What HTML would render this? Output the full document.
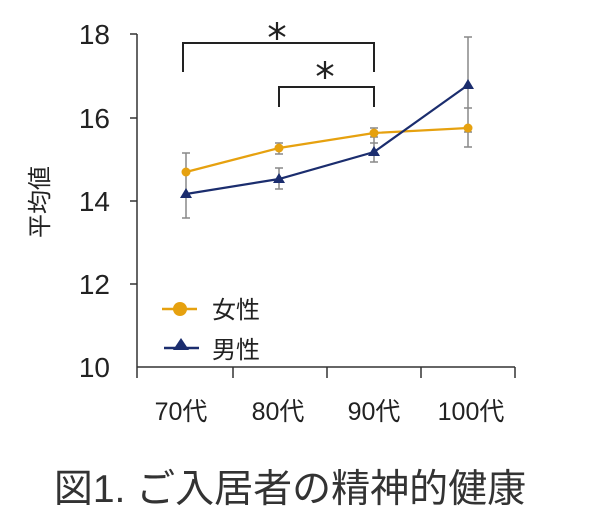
<!DOCTYPE html>
<html><head><meta charset="utf-8"><style>
body{margin:0;background:#fff}
svg{display:block;font-family:"Liberation Sans","Noto Sans CJK JP",sans-serif}
</style></head><body>
<svg width="600" height="519" viewBox="0 0 600 519">
<g stroke="#333" stroke-width="1.5" fill="none">
<line x1="137" y1="34" x2="137" y2="378"/>
<line x1="137" y1="367" x2="515" y2="367"/>
<line x1="130" y1="34" x2="137" y2="34"/>
<line x1="130" y1="118" x2="137" y2="118"/>
<line x1="130" y1="201" x2="137" y2="201"/>
<line x1="130" y1="284" x2="137" y2="284"/>
<line x1="233" y1="367" x2="233" y2="378"/>
<line x1="327" y1="367" x2="327" y2="378"/>
<line x1="421" y1="367" x2="421" y2="378"/>
<line x1="515" y1="367" x2="515" y2="378"/>
</g>
<g font-size="28" fill="#222" text-anchor="end">
<text x="110" y="44">18</text><text x="110" y="128">16</text><text x="110" y="211">14</text><text x="110" y="294">12</text><text x="110" y="377">10</text>
</g>
<text transform="translate(48,202) rotate(-90)" font-size="24" text-anchor="middle" fill="#222">平均値</text>
<g font-size="25" fill="#222" text-anchor="middle">
<text x="181" y="420">70代</text><text x="278" y="420">80代</text><text x="374" y="420">90代</text><text x="471" y="420">100代</text>
</g>
<text x="290" y="502" font-size="39" text-anchor="middle" fill="#333">図1. ご入居者の精神的健康</text>
<g stroke="#222" stroke-width="2" fill="none">
<polyline points="183,72 183,43 374,43 374,72"/>
<polyline points="279,107 279,87 374,87 374,107"/>
</g>
<g stroke="#222" stroke-width="2.2">
<line x1="277" y1="22" x2="277" y2="40"/><line x1="269" y1="26" x2="285" y2="36"/><line x1="285" y1="26" x2="269" y2="36"/>
<line x1="325" y1="61" x2="325" y2="79"/><line x1="317" y1="65" x2="333" y2="75"/><line x1="333" y1="65" x2="317" y2="75"/>
</g>
<g stroke="#888" stroke-width="1.5">
<line x1="186" y1="153" x2="186" y2="218"/><line x1="182" y1="153" x2="190" y2="153"/><line x1="182" y1="218" x2="190" y2="218"/>
<line x1="279" y1="143" x2="279" y2="154"/><line x1="275" y1="143" x2="283" y2="143"/><line x1="275" y1="154" x2="283" y2="154"/>
<line x1="279" y1="168" x2="279" y2="189"/><line x1="275" y1="168" x2="283" y2="168"/><line x1="275" y1="189" x2="283" y2="189"/>
<line x1="374" y1="128" x2="374" y2="162"/><line x1="370" y1="128" x2="378" y2="128"/><line x1="370" y1="137" x2="378" y2="137"/><line x1="370" y1="143" x2="378" y2="143"/><line x1="370" y1="162" x2="378" y2="162"/>
<line x1="468" y1="37" x2="468" y2="147"/><line x1="464" y1="37" x2="472" y2="37"/><line x1="464" y1="108" x2="472" y2="108"/><line x1="464" y1="132" x2="472" y2="132"/><line x1="464" y1="147" x2="472" y2="147"/>
</g>
<polyline points="186,172 279,148 374,133 468,128" stroke="#E6A10F" stroke-width="2.2" fill="none"/>
<g fill="#E6A10F"><circle cx="186" cy="172" r="4.5"/><circle cx="279" cy="148" r="4.5"/><circle cx="374" cy="133" r="4.5"/><circle cx="468" cy="128" r="4.5"/></g>
<polyline points="186,194 279,179 374,152 468,85" stroke="#1B2D6E" stroke-width="2.2" fill="none"/>
<g fill="#1B2D6E">
<polygon points="186,188 192,198 180,198"/><polygon points="279,173 285,183 273,183"/><polygon points="374,146 380,156 368,156"/><polygon points="468,79 474,89 462,89"/>
</g>
<line x1="162" y1="309" x2="197" y2="309" stroke="#E6A10F" stroke-width="2.5"/>
<circle cx="180" cy="309" r="7" fill="#E6A10F"/>
<line x1="164" y1="348" x2="199" y2="348" stroke="#1B2D6E" stroke-width="2.5"/>
<polygon points="181,338 189,350 173,350" fill="#1B2D6E"/>
<g font-size="24" fill="#222"><text x="212" y="318">女性</text><text x="212" y="358">男性</text></g>
</svg>
</body></html>
